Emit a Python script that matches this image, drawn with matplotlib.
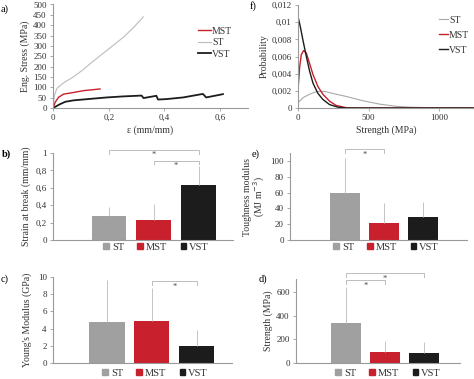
import numpy as np
import matplotlib
matplotlib.use("Agg")
import matplotlib.pyplot as plt
from matplotlib.patches import Patch
from matplotlib.ticker import FuncFormatter

plt.rcParams["font.family"] = ["Liberation Serif", "DejaVu Serif"]

# ---- data ----
groups = ["ST", "MST", "VST"]

# a) stress-strain curves
st_strain = [0, 0.005, 0.014, 0.03, 0.044, 0.065, 0.086, 0.11, 0.133, 0.163, 0.193, 0.222,
             0.252, 0.29, 0.324]
st_stress = [0, 60, 95, 113, 127, 143, 163, 187, 214, 246, 278, 309, 341, 390, 440]
mst_strain = [0, 0.008, 0.02, 0.038, 0.074, 0.11, 0.14, 0.169]
mst_stress = [0, 28, 52, 67, 75, 84, 88, 92]
vst_strain = [0, 0.026, 0.044, 0.074, 0.133, 0.193, 0.252, 0.318, 0.325, 0.371, 0.377,
              0.407, 0.467, 0.538, 0.55, 0.603, 0.61]
vst_stress = [0, 19, 30, 37, 44, 51, 56, 60, 48, 59, 41, 43, 51, 68, 51, 65, 67]

# f) strength probability distributions
st_x = [0, 35, 82, 129, 188, 246, 340, 458, 575, 692, 810, 1000, 1240]
st_p = [0.0006, 0.0012, 0.0016, 0.0019, 0.00194, 0.0017, 0.00135, 0.00085, 0.00046,
        0.0002, 0.00008, 0.00002, 0]
mst_x = [0, 12, 23, 40, 59, 82, 106, 141, 176, 223, 270, 340, 411, 1240]
mst_p = [0.0021, 0.0048, 0.0062, 0.0067, 0.0064, 0.0052, 0.0039, 0.0025, 0.0016,
         0.0008, 0.0003, 0.00004, 0, 0]
vst_x = [0, 16, 35, 59, 82, 106, 141, 176, 223, 282, 340, 1240]
vst_p = [0.01065, 0.0095, 0.0079, 0.0060, 0.0043, 0.0029, 0.0017, 0.0010, 0.0004,
         0.0001, 0, 0]

# b-e) bar panels (mean, upper error)
strain_break = [0.276, 0.23, 0.632]
strain_err = [0.107, 0.184, 0.222]
toughness = [59, 22, 29]
toughness_err = [45, 25, 19.5]
youngs = [4.75, 4.88, 1.98]
youngs_err = [4.9, 3.8, 1.86]
strength = [341, 96, 87]
strength_err = [304, 90, 88]

C_ST, C_MST, C_VST = "#a0a0a0", "#c8202c", "#1c1c1c"
bar_colors = [C_ST, C_MST, C_VST]
SPINE = "#9a9a9a"
W, H = 474, 379


def add_ax(x0, x1, y_top, y_bot):
    ax = fig.add_axes([x0 / W, 1 - y_bot / H, (x1 - x0) / W, (y_bot - y_top) / H])
    for s in ("top", "right"):
        ax.spines[s].set_visible(False)
    for s in ("left", "bottom"):
        ax.spines[s].set_color(SPINE)
        ax.spines[s].set_linewidth(0.8)
    ax.tick_params(labelsize=6.5, colors="#333333", length=2.5, width=0.6, pad=2)
    ax.tick_params(color=SPINE)
    ax.patch.set_alpha(0)
    return ax


def bar_panel(ax, vals, errs, xlim, ylim, width, brackets, star_dy):
    x = np.arange(len(vals))
    ax.bar(x, vals, width=width, color=bar_colors)
    ax.errorbar(x, vals, yerr=[np.zeros(len(vals)), errs], fmt="none",
                ecolor="#c4c4c4", elinewidth=0.7, capsize=0)
    ax.set_xlim(*xlim)
    ax.set_ylim(*ylim)
    ax.set_xticks([])
    for (i, j, yb, tick) in brackets:
        ax.plot([i, i, j, j], [yb - tick, yb, yb, yb - tick], color="#bdbdbd",
                lw=0.7, clip_on=False)
        ax.text((i + j) / 2, yb - star_dy, "*", ha="center", va="top", fontsize=6,
                color="#444444")


def bar_legend(cx, cy):
    handles = [Patch(color=c, label=g) for c, g in zip(bar_colors, groups)]
    fig.legend(handles=handles, loc="center", bbox_to_anchor=(cx / W, 1 - cy / H),
               ncol=3, frameon=False, fontsize=7.5, handlelength=0.55, handleheight=0.55,
               handletextpad=0.25, columnspacing=1.3, labelcolor="#333333")


fig = plt.figure(figsize=(4.74, 3.79), dpi=100)

# a) stress-strain
ax = add_ax(53, 248, 4.5, 108)
ax.plot(mst_strain, mst_stress, color=C_MST, lw=1.0, label="MST")
ax.plot(st_strain, st_stress, color="#bcbcbc", lw=0.8, label="ST")
ax.plot(vst_strain, vst_stress, color=C_VST, lw=1.3, label="VST")
ax.set_xlim(0, 0.7)
ax.set_ylim(0, 500)
ax.set_xticks([0, 0.2, 0.4, 0.6])
ax.set_yticks(np.arange(0, 501, 50))
ax.xaxis.set_major_formatter(FuncFormatter(lambda v, p: "0" if v == 0 else ("%.1f" % v).replace(".", ",")))
ax.set_xlabel("ε (mm/mm)", fontsize=7, labelpad=2, color="#333333")
ax.set_ylabel("Eng. Stress (MPa)", fontsize=7, labelpad=2, color="#333333")
ax.legend(loc="upper left", bbox_to_anchor=(193 / W, 1 - 22 / H), bbox_transform=fig.transFigure,
          frameon=False, fontsize=7, handlelength=1.3, handletextpad=0.15, labelspacing=0.25,
          labelcolor="#333333", borderpad=0)
fig.text(1 / W, 1 - 9 / H, "a)", fontsize=7.5, va="center")

# f) probability
ax = add_ax(298, 474, 5, 108)
ax.plot(st_x, st_p, color="#a8a8a8", lw=0.8, label="ST")
ax.plot(mst_x, mst_p, color=C_MST, lw=1.0, label="MST")
ax.plot(vst_x, vst_p, color=C_VST, lw=1.0, label="VST")
ax.set_xlim(0, 1246)
ax.set_ylim(0, 0.012)
ax.set_xticks([0, 500, 1000])
ax.set_yticks(np.arange(0, 0.0121, 0.002))
ax.yaxis.set_major_formatter(FuncFormatter(lambda v, p: "0" if abs(v) < 1e-9 else ("%g" % round(v, 3)).replace(".", ",")))
ax.set_xlabel("Strength (MPa)", fontsize=7, labelpad=2, color="#333333")
ax.set_ylabel("Probability", fontsize=7, labelpad=2, color="#333333")
ax.legend(loc="upper left", bbox_to_anchor=(434 / W, 1 - 11 / H), bbox_transform=fig.transFigure,
          frameon=False, fontsize=7, handlelength=0.9, handletextpad=0.15, labelspacing=0.6,
          labelcolor="#333333", borderpad=0)
fig.text(250 / W, 1 - 6 / H, "f)", fontsize=7.5, va="center")

# b) strain at break
ax = add_ax(53, 233, 153, 240)
bar_panel(ax, strain_break, strain_err, (-1.25, 2.77), (0, 1), 0.78,
          [(0, 2, 1.034, 0.04), (1, 2, 0.908, 0.04)], 0.01)
ax.set_yticks(np.arange(0, 1.01, 0.2))
ax.yaxis.set_major_formatter(FuncFormatter(lambda v, p: "0" if v == 0 else ("%g" % round(v, 1)).replace(".", ",")))
ax.set_ylabel("Strain at break (mm/mm)", fontsize=7, labelpad=3, color="#333333")
bar_legend(156, 247)
fig.text(2 / W, 1 - 154 / H, "b)", fontsize=7.5, va="center", weight="bold")

# e) toughness
ax = add_ax(290, 467, 153, 240)
bar_panel(ax, toughness, toughness_err, (-1.41, 3.13), (0, 110), 0.77,
          [(0, 1, 115, 5)], 2)
ax.set_yticks(np.arange(0, 101, 20))
ax.set_ylabel("Toughness modulus\n(MJ m$^{-3}$)", fontsize=7, labelpad=2, color="#333333",
              linespacing=1.0)
bar_legend(386, 247)
fig.text(252 / W, 1 - 154 / H, "e)", fontsize=7.5, va="center")

# c) Young's modulus
ax = add_ax(53, 232, 277, 363)
bar_panel(ax, youngs, youngs_err, (-1.2, 2.78), (0, 10), 0.78,
          [(1, 2, 9.53, 0.45)], 0.2)
ax.set_yticks(np.arange(0, 10.1, 2))
ax.set_ylabel("Young's Modulus (GPa)", fontsize=7, labelpad=4, color="#333333")
bar_legend(155, 373)
fig.text(1 / W, 1 - 279 / H, "c)", fontsize=7.5, va="center")

# d) strength
ax = add_ax(296, 460, 279, 363)
bar_panel(ax, strength, strength_err, (-1.30, 2.94), (0, 710), 0.78,
          [(0, 1, 700, 30), (0, 2, 760, 30)], 12)
ax.set_yticks([0, 200, 400, 600])
ax.set_ylabel("Strength (MPa)", fontsize=7, labelpad=2, color="#333333")
bar_legend(388, 373)
fig.text(259 / W, 1 - 279 / H, "d)", fontsize=7.5, va="center")

fig.savefig("out.png", dpi=100)
